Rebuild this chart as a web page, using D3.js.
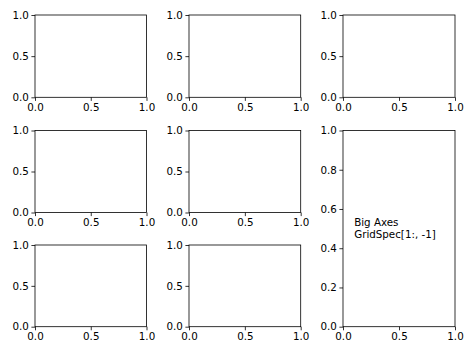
<!DOCTYPE html>
<html lang="en">
  <head>
    <meta charset="UTF-8" />
    <title>gridspec demo</title>
    <script src="https://d3js.org/d3.v7.min.js" charset="utf-8"></script>
    <style>
      body { margin: 0; background: #fff; }
      text { font-family: "DejaVu Sans", sans-serif; }
    </style>
  </head>
  <body>
    <svg class="chart"></svg>
    <script>
      // axes in the grid: [row, col, rowSpan]
      let cells = [[0, 0, 1], [0, 1, 1], [0, 2, 1], [1, 0, 1], [1, 1, 1], [2, 0, 1], [2, 1, 1], [1, 2, 2]];
      let smallTicks = [0, 0.5, 1.0];
      let bigYTicks = [0, 0.2, 0.4, 0.6, 0.8, 1.0];
      let bigLabel = ["Big Axes", "GridSpec[1:, -1]"];

      let width = 474;
      let height = 355;
      let colEdges = [[35, 146.5], [189, 300.7], [343, 455]];
      let rowEdges = [[15, 97.3], [130.5, 212.5], [245, 326.7]];

      let svg = d3.select(".chart").attr("width", width).attr("height", height);

      cells.forEach(function(c) {
        let x0 = colEdges[c[1]][0], x1 = colEdges[c[1]][1];
        let y0 = rowEdges[c[0]][0], y1 = rowEdges[c[0] + c[2] - 1][1];
        let big = c[2] > 1;

        let x = d3.scaleLinear().domain([0, 1]).range([x0, x1]);
        let y = d3.scaleLinear().domain([0, 1]).range([y1, y0]);

        let g = svg.append("g");
        g.append("rect")
          .attr("x", x0).attr("y", y0)
          .attr("width", x1 - x0).attr("height", y1 - y0)
          .attr("fill", "none").attr("stroke", "#000").attr("stroke-width", 0.8);

        let xAxis = d3.axisBottom(x).tickValues(smallTicks).tickFormat(d3.format(".1f"))
          .tickSize(3.6).tickPadding(2.5);
        let yAxis = d3.axisLeft(y).tickValues(big ? bigYTicks : smallTicks).tickFormat(d3.format(".1f"))
          .tickSize(3.6).tickPadding(2.5);

        let gx = g.append("g").attr("transform", "translate(0," + y1 + ")").call(xAxis);
        let gy = g.append("g").attr("transform", "translate(" + x0 + ",0)").call(yAxis);
        [gx, gy].forEach(function(a) {
          a.select(".domain").remove();
          a.selectAll("line").attr("stroke", "#000").attr("stroke-width", 0.8);
          a.selectAll("text").attr("fill", "#000").style("font-size", "10.3px")
            .style("font-family", "DejaVu Sans");
        });

        if (big) {
          let t = g.append("text")
            .attr("x", x(0.1)).attr("y", y(0.5))
            .style("font-size", "10.3px").attr("fill", "#000");
          t.selectAll("tspan").data(bigLabel).enter().append("tspan")
            .attr("x", x(0.1))
            .attr("dy", function(d, i) { return i === 0 ? "-0.25em" : "1.15em"; })
            .text(function(d) { return d; });
        }
      });
    </script>
  </body>
</html>
